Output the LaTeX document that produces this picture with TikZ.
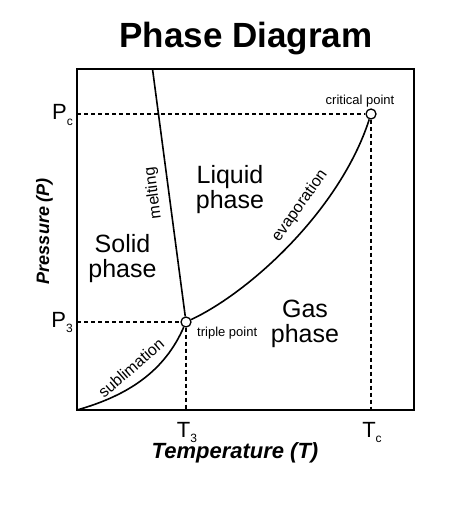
\documentclass[tikz,border=0pt]{standalone}
\usepackage{fontspec}
\setmainfont{Liberation Sans}
\usetikzlibrary{positioning}
\tikzset{
    frame/.style={line width=1.8pt},
    curve/.style={line width=1.6pt},
    guide/.style={line width=1.4pt, dash pattern=on 4pt off 3pt},
    pointmark/.style={circle, draw, fill=white, line width=1.3pt, minimum size=10pt, inner sep=0pt},
    phaselbl/.style={align=center, font=\fontsize{25}{25}\selectfont, inner sep=0pt},
    smalllbl/.style={font=\fontsize{13}{15}\selectfont, inner sep=0pt},
    curvelbl/.style={font=\fontsize{16}{18}\selectfont, inner sep=0pt},
    ticklbl/.style={font=\fontsize{22}{24}\selectfont, inner sep=0pt},
    axislbl/.style={font=\fontsize{22}{24}\selectfont\bfseries\itshape, inner sep=0pt}
}
\newcommand{\lowidx}[1]{\raisebox{-0.45ex}{\fontsize{12}{12}\selectfont #1}}

\begin{document}
\begin{tikzpicture}[x=1pt,y=-1pt]
                \useasboundingbox (0,0) rectangle (474,505);
                \fill[white] (0,0) rectangle (474,505);

                \coordinate (topL) at (77,69);
                \coordinate (botR) at (414,410);
                \coordinate (O) at (77,410);
                \coordinate (meltTop) at (152.5,69);
                \coordinate (pcAxis) at (77,114);
                \coordinate (p3Axis) at (77,322);
                \coordinate (t3Axis) at (186,410);
                \coordinate (tcAxis) at (371,410);

                \node[pointmark] (triple) at (186,322) {};
                \node[pointmark] (crit) at (371,114) {};

                \draw[frame] (topL) rectangle (botR);

                % Curves
                \draw[curve] (meltTop) -- (triple);
                \draw[curve] (O) .. controls (130,395) and (165,370) .. (triple);
                \draw[curve] (triple) .. controls (250,292) and (340,210) .. (crit);

                % Dashed guides
                \draw[guide] (pcAxis) -- (crit);
                \draw[guide] (crit) -- (tcAxis);
                \draw[guide] (p3Axis) -- (triple);
                \draw[guide] (triple) -- (t3Axis);

                % Labels
                \node[font=\fontsize{35}{37}\selectfont\bfseries, anchor=base] (title) at (246,48) {Phase Diagram};
                \node[phaselbl, anchor=base] (liquid) at (230,208) {Liquid\\phase};
                \node[phaselbl, anchor=base] (solid) at (122.5,277) {Solid\\phase};
                \node[phaselbl, anchor=base] (gas) at (305,342) {Gas\\phase};

                \node[smalllbl, anchor=base] (critLbl) at (360,105) {critical point};
                \node[smalllbl, anchor=base west] (tripleLbl) at (197,336) {triple point};

                \node[curvelbl, rotate=97.4] (meltLbl) at (153.5,193) {melting};
                \node[curvelbl, rotate=54.5] (evapLbl) at (300,206) {evaporation};
                \node[curvelbl, rotate=41] (sublLbl) at (131,368) {sublimation};

                \node[ticklbl, anchor=base east] (pc) at (73,120) {P\lowidx{c}};
                \node[ticklbl, anchor=base east] (p3) at (73,327) {P\lowidx{3}};
                \node[ticklbl, anchor=base] (t3) at (187,437) {T\lowidx{3}};
                \node[ticklbl, anchor=base] (tc) at (372,437) {T\lowidx{c}};

                \node[axislbl, anchor=base] (tAxis) at (235,458) {Temperature (T)};
                \node[axislbl, font=\fontsize{18}{20}\selectfont\bfseries\itshape, rotate=90, anchor=base] (pAxis) at (49,231) {Pressure (P)};
\end{tikzpicture}
\end{document}
